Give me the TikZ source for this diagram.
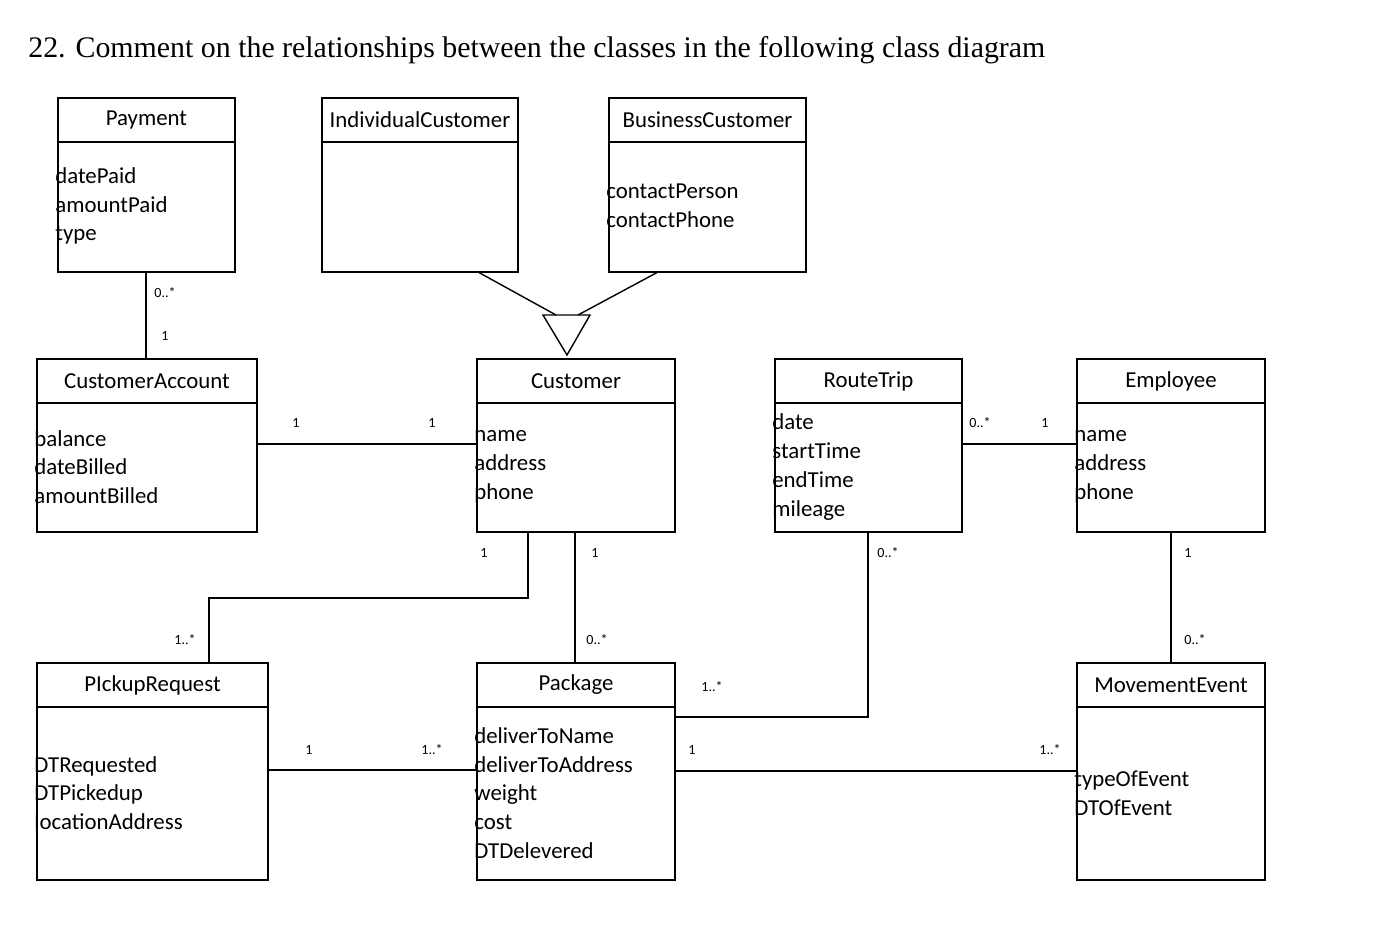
\documentclass[tikz,border=0pt]{standalone}
\usepackage{fontspec}
\setmainfont{Carlito}
\newfontfamily\titlefont{Liberation Serif}
\usetikzlibrary{calc}

\tikzset{
  box/.style={draw,line width=1pt},
  attr/.style={anchor=west,inner sep=0pt,align=left,font=\fontsize{13}{16.4}\selectfont},
  head/.style={inner sep=0pt,font=\fontsize{13}{16}\selectfont},
  mult/.style={inner sep=0pt,font=\fontsize{8}{9}\selectfont},
  link/.style={line width=0.8pt}
}

% name, x1, y1, x2, y2, title, divider y, attribute centre y, attributes
\newcommand{\umlbox}[9]{%
  \draw[box] (#2,#3) rectangle (#4,#5);
  \draw[box] (#2,#7) -- (#4,#7);
  \coordinate (#1-nw) at (#2,#3);
  \coordinate (#1-se) at (#4,#5);
  \node[head] (#1-t) at ({(#2+#4)/2},{(#3+#7)/2}) {#6};
  \node[attr] (#1-a) at (#2-3,#8) {#9};
}

\begin{document}
\begin{tikzpicture}[x=0.02cm,y=-0.02cm]
    \useasboundingbox (0,0) rectangle (1382,948);
    \node[anchor=west,inner sep=0pt,font=\titlefont\fontsize{17}{20}\selectfont] (title) at (28,50)
      {22. Comment on the relationships between the classes in the following class diagram};

    \umlbox{pay}{58}{98}{235}{272}{Payment}{142}{206}{datePaid\\amountPaid\\type}
    \umlbox{ind}{322}{98}{518}{272}{IndividualCustomer}{142}{206}{}
    \umlbox{bus}{609}{98}{806}{272}{BusinessCustomer}{142}{206}{contactPerson\\contactPhone}
    \umlbox{acc}{37}{359}{257}{532}{CustomerAccount}{403}{467}{balance\\dateBilled\\amountBilled}
    \umlbox{cus}{477}{359}{675}{532}{Customer}{403}{467}{name\\address\\phone}
    \umlbox{rt}{775}{359}{962}{532}{RouteTrip}{403}{467}{date\\startTime\\endTime\\mileage}
    \umlbox{emp}{1077}{359}{1265}{532}{Employee}{403}{467}{name\\address\\phone}
    \umlbox{pick}{37}{663}{268}{880}{PIckupRequest}{707}{793}{DTRequested\\DTPickedup\\locationAddress}
    \umlbox{pkg}{477}{663}{675}{880}{Package}{707}{793}{deliverToName\\deliverToAddress\\weight\\cost\\DTDelevered}
    \umlbox{mov}{1077}{663}{1265}{880}{MovementEvent}{707}{793}{typeOfEvent\\DTOfEvent}

    % generalization
    \coordinate (tri) at (567,355);
    \draw[link] (543,315) -- (590,315) -- (tri) -- cycle;
    \draw[link] (478,272) -- (556,315);
    \draw[link] (658,272) -- (578,315);

    % associations
    \draw[link] (146,272) -- (146,359);
    \node[mult] at (165,293) {0..*};
    \node[mult] at (165,336) {1};

    \draw[link] (257,444) -- (477,444);
    \node[mult] at (296,423) {1};
    \node[mult] at (432,423) {1};

    \draw[link] (962,444) -- (1077,444);
    \node[mult] at (980,423) {0..*};
    \node[mult] at (1045,423) {1};

    \draw[link] (528,532) |- (209,598) -- (209,663);
    \node[mult] at (484,553) {1};
    \node[mult] at (185,640) {1..*};

    \draw[link] (575,532) -- (575,663);
    \node[mult] at (595,553) {1};
    \node[mult] at (597,640) {0..*};

    \draw[link] (868,532) |- (675,717);
    \node[mult] at (888,553) {0..*};
    \node[mult] at (712,687) {1..*};

    \draw[link] (1171,532) -- (1171,663);
    \node[mult] at (1188,553) {1};
    \node[mult] at (1195,640) {0..*};

    \draw[link] (268,770) -- (477,770);
    \node[mult] at (309,750) {1};
    \node[mult] at (432,750) {1..*};

    \draw[link] (675,771) -- (1077,771);
    \node[mult] at (692,750) {1};
    \node[mult] at (1050,750) {1..*};
\end{tikzpicture}
\end{document}
